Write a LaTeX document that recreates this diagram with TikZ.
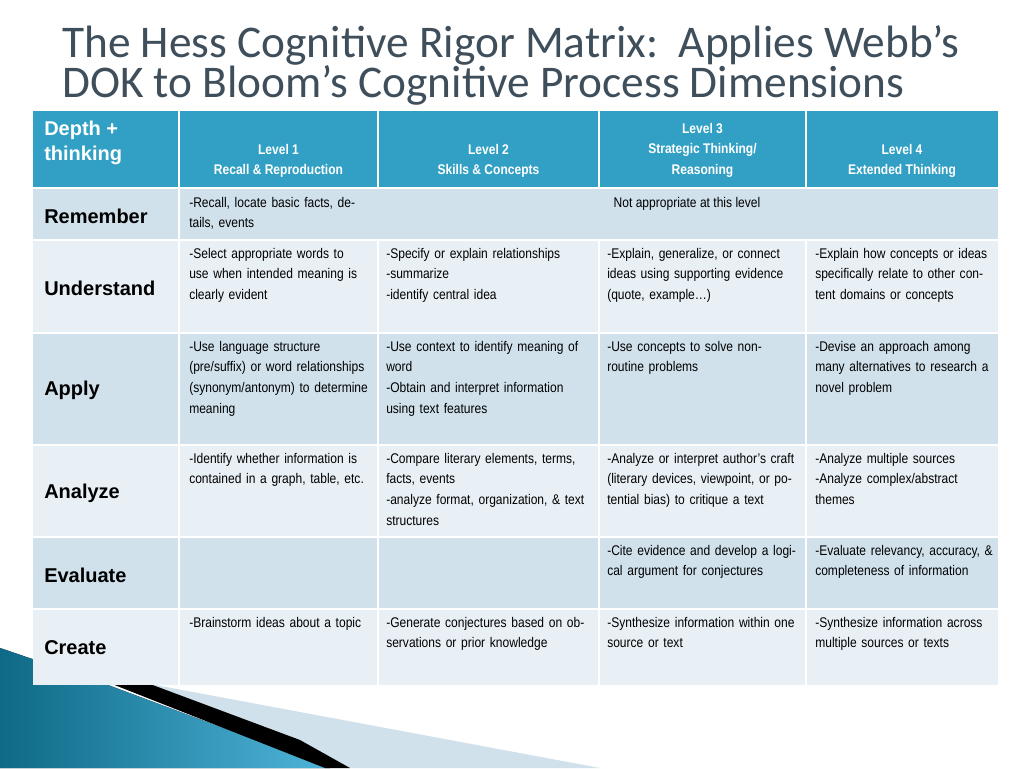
\documentclass[tikz,border=0pt]{standalone}
\usepackage{fontspec}
\setmainfont{Liberation Sans}
\newfontfamily\titlefont{Carlito}
\newfontfamily\narrowfont[FakeStretch=0.86]{Liberation Sans}
\begin{document}
\begin{tikzpicture}[x=0.75pt,y=-0.75pt,
  body/.style={anchor=north west,align=left,inner sep=0pt,font=\narrowfont\fontsize{10.5}{15.4}\selectfont},
  head/.style={align=center,inner sep=0pt,text=white,font=\narrowfont\bfseries\fontsize{10.5}{15.4}\selectfont},
  rowlab/.style={anchor=west,inner sep=0pt,font=\fontsize{15}{18}\selectfont\bfseries}]
\definecolor{hdr}{HTML}{31A0C4}
\definecolor{rdark}{HTML}{D0E1EB}
\definecolor{rlight}{HTML}{E8EFF5}
\definecolor{ttl}{HTML}{3E4E5B}
\definecolor{sw1}{HTML}{0E6A86}
\definecolor{sw2}{HTML}{4FB4DA}
\useasboundingbox (0,0) rectangle (1024,768);
\fill[white] (0,0) rectangle (1024,768);
% swoosh
\fill[left color=sw1, right color=sw2] (0,648) -- (100,682) -- (330,768) -- (0,768) -- cycle;
\fill[rdark] (150,684) -- (600,768) -- (345,768) -- (300,745) -- (160,690) -- cycle;
\fill[black] (112,684) -- (150,684) -- (300,740) -- (350,768) -- (325,768) -- cycle;
% title
\node[anchor=west,inner sep=0pt,text=ttl,font=\titlefont\fontsize{34}{30}\selectfont,align=left] (title) at (62,65) {The Hess Cognitive Rigor Matrix:\ \ Applies Webb’s\\DOK to Bloom’s Cognitive Process Dimensions};
% table fills
\fill[hdr] (33,111) rectangle (998,188);
\fill[rdark] (33,188) rectangle (998,240);
\fill[rlight] (33,240) rectangle (998,333);
\fill[rdark] (33,333) rectangle (998,445);
\fill[rlight] (33,445) rectangle (998,537);
\fill[rdark] (33,537) rectangle (998,609);
\fill[rlight] (33,609) rectangle (998,685);
\begin{scope}[white,line width=1.5pt]
\foreach \y in {188,240,333,445,537,609} \draw (33,\y) -- (998,\y);
\draw (179,111) -- (179,685);
\foreach \x in {378,599,806} {\draw (\x,111) -- (\x,188); \draw (\x,240) -- (\x,685);}
\end{scope}
% header
\node[anchor=north west,inner sep=0pt,text=white,align=left,font=\fontsize{15}{18.5}\selectfont\bfseries] (h0) at (44,121) {Depth +\\thinking};
\node[head] (h1) at (278.5,161) {Level 1\\Recall \& Reproduction};
\node[head] (h2) at (488.5,161) {Level 2\\Skills \& Concepts};
\node[head] (h3) at (702.5,150) {Level 3\\Strategic Thinking/\\Reasoning};
\node[head] (h4) at (902,161) {Level 4\\Extended Thinking};
% row labels
\node[rowlab] (r1) at (44,216) {Remember};
\node[rowlab] (r2) at (44,288) {Understand};
\node[rowlab] (r3) at (44,390) {Apply};
\node[rowlab] (r4) at (44,493) {Analyze};
\node[rowlab] (r5) at (44,575) {Evaluate};
\node[rowlab] (r6) at (44,648) {Create};
% Remember
\node[body,text width=137pt] (c11) at (189,197) {-Recall, locate basic facts, details, events};
\node[body,anchor=north] (c12) at (687,197) {Not appropriate at this level};
% Understand
\node[body,text width=137pt] (c21) at (189,248) {-Select appropriate words to use when intended meaning is clearly evident};
\node[body,text width=154pt] (c22) at (386,248) {-Specify or explain relationships\\-summarize\\-identify central idea};
\node[body,text width=143pt] (c23) at (607,248) {-Explain, generalize, or connect ideas using supporting evidence (quote, example…)};
\node[body,text width=134pt] (c24) at (815,248) {-Explain how concepts or ideas specifically relate to other content domains or concepts};
% Apply
\node[body,text width=137pt] (c31) at (189,341) {-Use language structure (pre/suffix) or word relationships (synonym/antonym) to determine meaning};
\node[body,text width=154pt] (c32) at (386,341) {-Use context to identify meaning of word\\-Obtain and interpret information using text features};
\node[body,text width=143pt] (c33) at (607,341) {-Use concepts to solve non-routine problems};
\node[body,text width=134pt] (c34) at (815,341) {-Devise an approach among many alternatives to research a novel problem};
% Analyze
\node[body,text width=137pt] (c41) at (189,453) {-Identify whether information is contained in a graph, table, etc.};
\node[body,text width=154pt] (c42) at (386,453) {-Compare literary elements, terms, facts, events\\-analyze format, organization, \& text structures};
\node[body,text width=145pt] (c43) at (607,453) {-Analyze or interpret author’s craft (literary devices, viewpoint, or potential bias) to critique a text};
\node[body,text width=134pt] (c44) at (815,453) {-Analyze multiple sources\\-Analyze complex/abstract themes};
% Evaluate
\node[body,text width=143pt] (c53) at (607,545) {-Cite evidence and develop a logical argument for conjectures};
\node[body,text width=134pt] (c54) at (815,545) {-Evaluate relevancy, accuracy, \& completeness of information};
% Create
\node[body,text width=137pt] (c61) at (189,617) {-Brainstorm ideas about a topic};
\node[body,text width=154pt] (c62) at (386,617) {-Generate conjectures based on observations or prior knowledge};
\node[body,text width=143pt] (c63) at (607,617) {-Synthesize information within one source or text};
\node[body,text width=134pt] (c64) at (815,617) {-Synthesize information across multiple sources or texts};
\end{tikzpicture}
\end{document}
